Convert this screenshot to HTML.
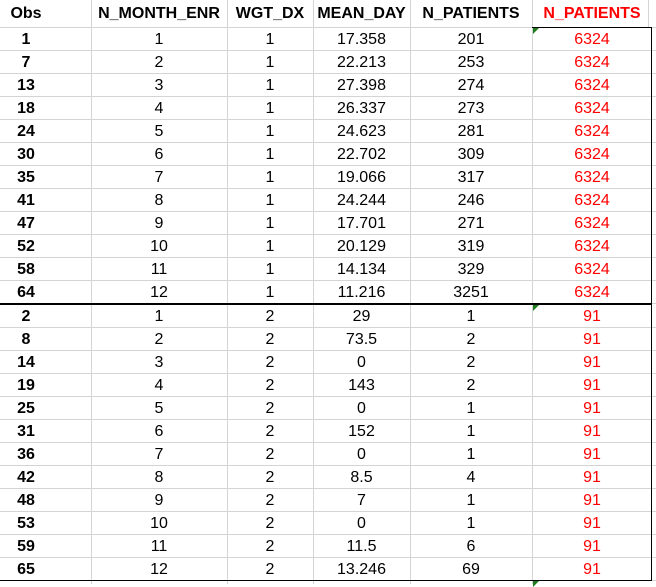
<!DOCTYPE html>
<html><head><meta charset="utf-8"><style>
body{margin:0;background:#fff;width:656px;height:584px;overflow:hidden;position:relative;font-family:"Liberation Sans",Arial,sans-serif;}
.v{position:absolute;top:0;height:584px;width:1px;background:#d4d4d4}
.h{position:absolute;left:0;width:656px;height:1px;background:#d4d4d4}
.c{position:absolute;height:23px;line-height:23px;text-align:center;font-size:16px;color:#000}
.b{font-weight:bold}
.r{color:#ff0000}
.tri{position:absolute;width:0;height:0;border-top:6px solid #1e7b1e;border-right:6px solid transparent}
</style></head><body>
<div class="v" style="left:91px"></div>
<div class="v" style="left:227px"></div>
<div class="v" style="left:313px"></div>
<div class="v" style="left:410px"></div>
<div class="v" style="left:532px"></div>
<div class="v" style="left:648px;height:27px"></div>
<div id="rows"></div>
<div style="position:absolute;left:0;top:27px;width:656px;height:1px;background:#d4d4d4"></div>
<div style="position:absolute;left:532px;top:27px;width:120px;height:1px;background:#000"></div>
<div style="position:absolute;left:651px;top:27px;width:1px;height:554px;background:#000"></div>
<div style="position:absolute;left:0;top:303px;width:652px;height:2px;background:#000"></div>
<div style="position:absolute;left:0;top:580px;width:652px;height:1px;background:#000"></div>
<div class="tri" style="left:533px;top:28px"></div>
<div class="tri" style="left:533px;top:305px"></div>
<div class="tri" style="left:533px;top:581px"></div>
<script>
var d=[[1,1,1,"17.358",201,6324],[7,2,1,"22.213",253,6324],[13,3,1,"27.398",274,6324],[18,4,1,"26.337",273,6324],[24,5,1,"24.623",281,6324],[30,6,1,"22.702",309,6324],[35,7,1,"19.066",317,6324],[41,8,1,"24.244",246,6324],[47,9,1,"17.701",271,6324],[52,10,1,"20.129",319,6324],[58,11,1,"14.134",329,6324],[64,12,1,"11.216",3251,6324],
[2,1,2,"29",1,91],[8,2,2,"73.5",2,91],[14,3,2,"0",2,91],[19,4,2,"143",2,91],[25,5,2,"0",1,91],[31,6,2,"152",1,91],[36,7,2,"0",1,91],[42,8,2,"8.5",4,91],[48,9,2,"7",1,91],[53,10,2,"0",1,91],[59,11,2,"11.5",6,91],[65,12,2,"13.246",69,91]];
var cols=[[0,52],[91,136],[227,86],[313,97],[410,122],[532,120]];
var h='';
var hd=["Obs","N_MONTH_ENR","WGT_DX","MEAN_DAY","N_PATIENTS","N_PATIENTS"];
for(var j=0;j<6;j++)h+='<div class="c b'+(j==5?' r':'')+'" style="left:'+cols[j][0]+'px;width:'+cols[j][1]+'px;top:1px;height:26px;line-height:26px">'+hd[j]+'</div>';
for(var i=0;i<24;i++){var y=28+i*23+(i>=12?1:0);
 h+='<div class="h" style="top:'+(y+22)+'px"></div>';
 for(var j=0;j<6;j++)h+='<div class="c'+(j==0?' b':'')+(j==5?' r':'')+'" style="left:'+cols[j][0]+'px;width:'+cols[j][1]+'px;top:'+y+'px">'+d[i][j]+'</div>';}
document.getElementById('rows').innerHTML=h;
</script>
</body></html>
